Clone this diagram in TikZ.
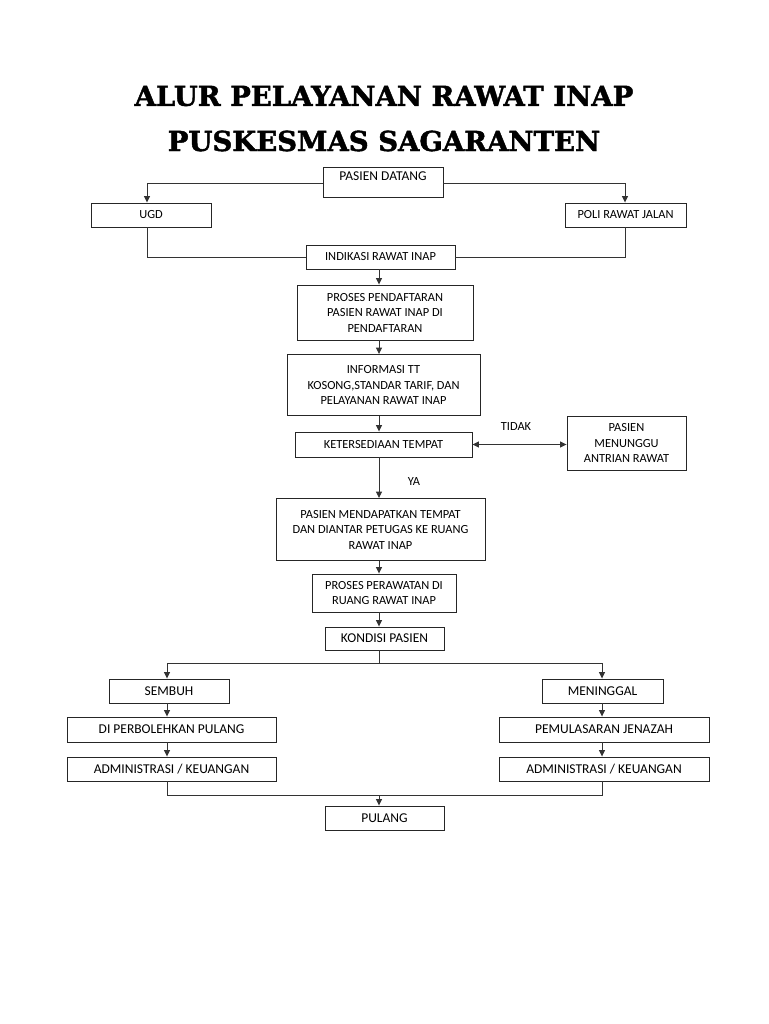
\documentclass[tikz,border=0pt]{standalone}
\usepackage{fontspec}
\setmainfont{Carlito}
\newfontfamily\titlefont[BoldFeatures={FakeBold=1.6}]{DejaVu Serif}
\usetikzlibrary{arrows.meta}
\begin{document}
\begin{tikzpicture}[x=1pt,y=-1pt,
  box/.style={draw=black!85, line width=0.9pt, inner sep=0pt, align=center, font=\fontsize{12.4}{15.5}\selectfont},
  bigbox/.style={box, font=\fontsize{13.5}{16}\selectfont},
  conn/.style={draw=black!80, line width=0.9pt},
  arr/.style={conn, -{Triangle[length=6.5pt,width=6pt]}},
  dbl/.style={conn, {Triangle[length=6.5pt,width=6pt]}-{Triangle[length=6.5pt,width=6pt]}},
  lbl/.style={font=\fontsize{12.4}{14}\selectfont, inner sep=0pt},
  ttl/.style={font=\titlefont\bfseries\fontsize{27.5}{30}\selectfont, inner sep=0pt},
]
\useasboundingbox[fill=white] (0,0) rectangle (768,1024);

\node[ttl] (t1) at (384,96) {ALUR PELAYANAN RAWAT INAP};
\node[ttl] (t2) at (384,141) {PUSKESMAS SAGARANTEN};

\coordinate (cx) at (379,0);
\coordinate (cl) at (167,0);
\coordinate (cr) at (602,0);
\coordinate (cu) at (147,0);
\coordinate (cp) at (625,0);

\node[bigbox, minimum width=120, minimum height=30, text height=8.7pt, text depth=10.7pt] (pd) at (383,182) {PASIEN DATANG};
\node[box, minimum width=120, minimum height=24] (ugd) at (151,215) {UGD};
\node[box, minimum width=121, minimum height=24] (poli) at (625.5,215) {POLI RAWAT JALAN};
\node[box, minimum width=149, minimum height=24] (ind) at (380.5,257) {INDIKASI RAWAT INAP};
\node[box, minimum width=176, minimum height=55] (pp) at (385,312.5) {PROSES PENDAFTARAN\\PASIEN RAWAT INAP DI\\PENDAFTARAN};
\node[box, minimum width=193, minimum height=61] (info) at (383.5,385) {INFORMASI TT\\KOSONG,STANDAR TARIF, DAN\\PELAYANAN RAWAT INAP};
\node[box, minimum width=177, minimum height=25] (ket) at (383.5,444.5) {KETERSEDIAAN TEMPAT};
\node[box, minimum width=119, minimum height=54] (pm) at (626.5,443) {PASIEN\\MENUNGGU\\ANTRIAN RAWAT};
\node[box, minimum width=209, minimum height=62] (b9) at (380.5,529.5) {PASIEN MENDAPATKAN TEMPAT\\DAN DIANTAR PETUGAS KE RUANG\\RAWAT INAP};
\node[box, minimum width=144, minimum height=38] (b10) at (384,593) {PROSES PERAWATAN DI\\RUANG RAWAT INAP};
\node[bigbox, minimum width=119, minimum height=23] (kond) at (384.5,638.5) {KONDISI PASIEN};
\node[bigbox, minimum width=120, minimum height=24] (sem) at (169,691) {SEMBUH};
\node[bigbox, minimum width=121, minimum height=24] (men) at (602.5,691) {MENINGGAL};
\node[bigbox, minimum width=209, minimum height=25] (dpp) at (171.5,729.5) {DI PERBOLEHKAN PULANG};
\node[bigbox, minimum width=210, minimum height=25] (pj) at (604,729.5) {PEMULASARAN JENAZAH};
\node[bigbox, minimum width=209, minimum height=24] (adm1) at (171.5,769) {ADMINISTRASI / KEUANGAN};
\node[bigbox, minimum width=210, minimum height=24] (adm2) at (604,769) {ADMINISTRASI / KEUANGAN};
\node[bigbox, minimum width=119, minimum height=24] (pul) at (384.5,818) {PULANG};

\node[lbl] (tidak) at (516,427) {TIDAK};
\node[lbl] (ya) at (414,482) {YA};

% top branch
\coordinate (pdl) at ([yshift=-1pt]pd.west);
\coordinate (pdr) at ([yshift=-1pt]pd.east);
\draw[arr] (pdl) -| (ugd.north -| cu);
\draw[arr] (pdr) -| (poli.north -| cp);
\draw[conn] (ugd.south -| cu) |- (ind.west);
\draw[conn] (poli.south -| cp) |- (ind.east);

% main column
\draw[arr] (ind.south -| cx) -- (pp.north -| cx);
\draw[arr] (pp.south -| cx) -- (info.north -| cx);
\draw[arr] (info.south -| cx) -- (ket.north -| cx);
\draw[dbl] (ket.east) -- (ket.east -| pm.west);
\draw[arr] (ket.south -| cx) -- (b9.north -| cx);
\draw[arr] (b9.south -| cx) -- (b10.north -| cx);
\draw[arr] (b10.south -| cx) -- (kond.north -| cx);

% split
\coordinate (br) at (379,663);
\draw[conn] (kond.south -| cx) -- (br);
\draw[arr] (br) -| (sem.north -| cl);
\draw[arr] (br) -| (men.north -| cr);
\draw[arr] (sem.south -| cl) -- (dpp.north -| cl);
\draw[arr] (dpp.south -| cl) -- (adm1.north -| cl);
\draw[arr] (men.south -| cr) -- (pj.north -| cr);
\draw[arr] (pj.south -| cr) -- (adm2.north -| cr);

% join
\coordinate (jn) at (379,795);
\draw[conn] (adm1.south -| cl) |- (jn);
\draw[conn] (adm2.south -| cr) |- (jn);
\draw[arr] (jn) -- (pul.north -| cx);
\end{tikzpicture}
\end{document}
